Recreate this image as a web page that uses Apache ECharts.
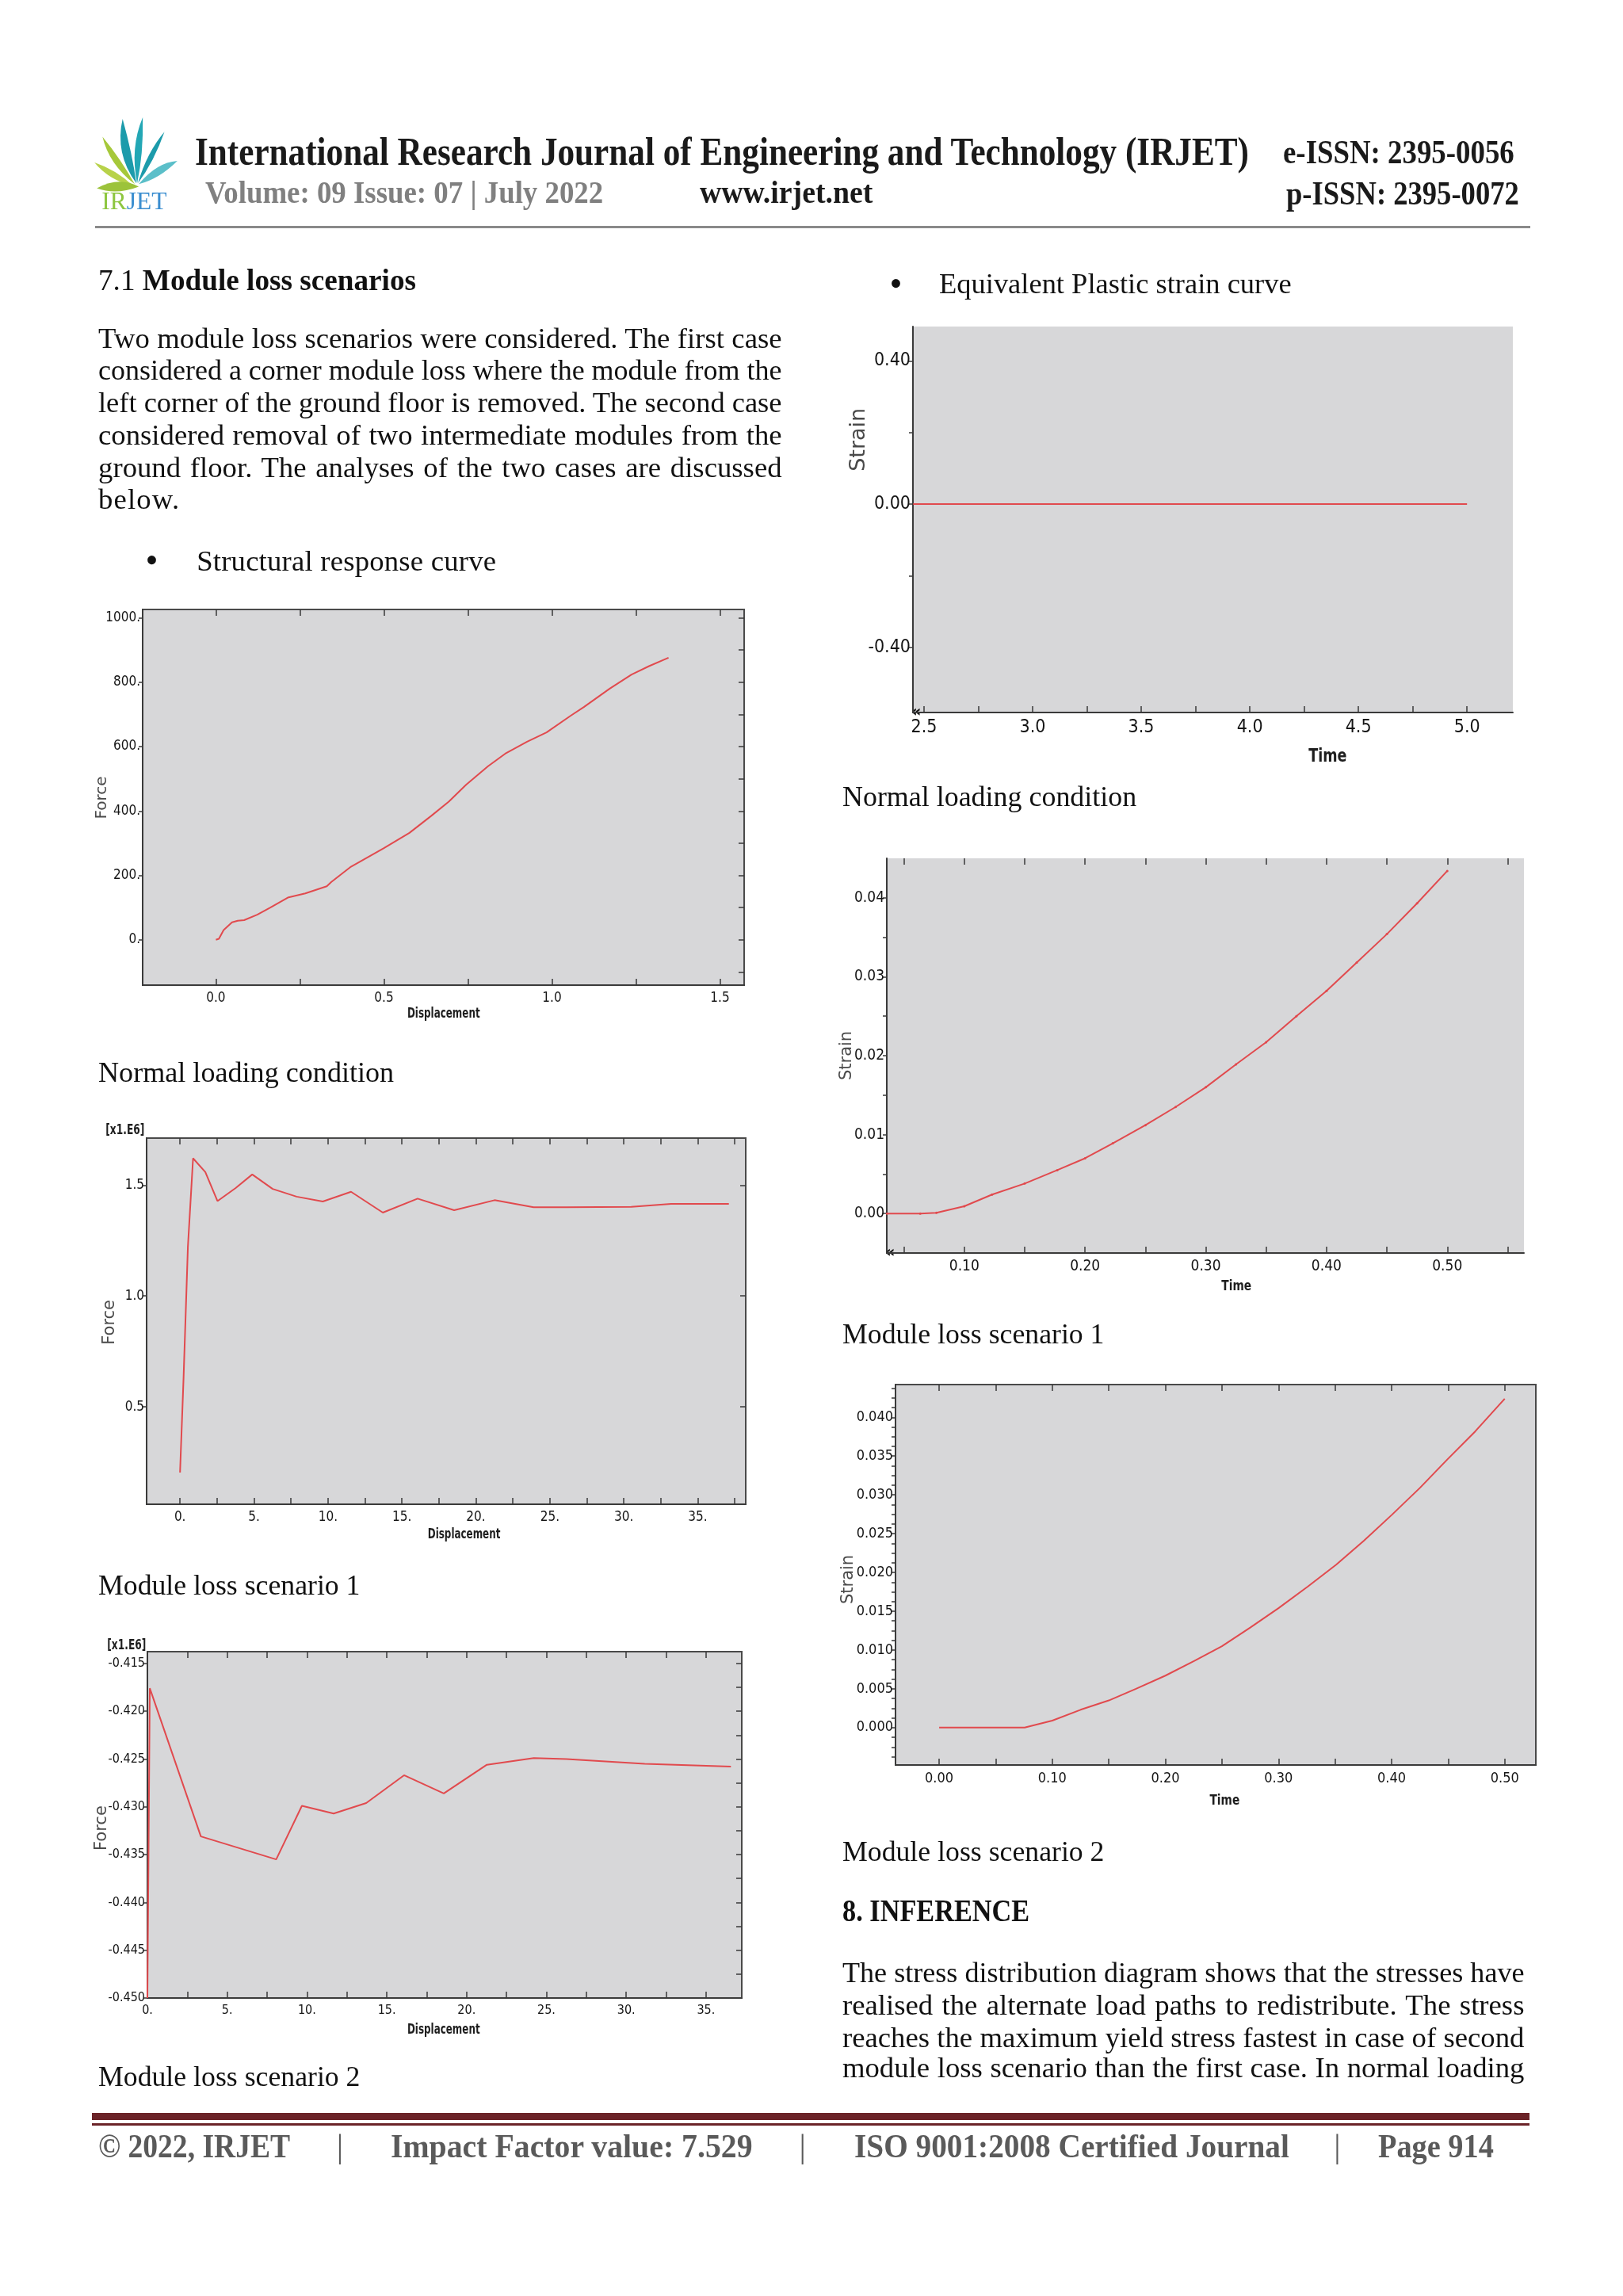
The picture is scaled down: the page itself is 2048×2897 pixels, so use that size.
<!DOCTYPE html>
<html><head><meta charset="utf-8">
<script src="https://cdn.jsdelivr.net/npm/echarts@6/dist/echarts.min.js"></script>
<style>
html,body{margin:0;padding:0;background:#fff;}
#page{position:relative;width:2048px;height:2897px;overflow:hidden;background:#fff;}
#chart{position:absolute;left:0;top:0;width:2048px;height:2897px;}
.t{position:absolute;white-space:nowrap;font-family:'Liberation Serif','DejaVu Serif',serif;color:#111;transform-origin:0 50%;}
.rule{position:absolute;}
</style></head><body>
<div id="page"><div id="chart"></div></div>
<script>
// ---------------- DATA ----------------
// Chart 1: Structural response curve (normal loading)
const c1Disp  = [0, 0.009, 0.023, 0.048, 0.065, 0.084, 0.123, 0.162, 0.214, 0.266, 0.330, 0.343, 0.402, 0.499, 0.576, 0.641, 0.693, 0.745, 0.810, 0.861, 0.926, 0.984, 1.056, 1.095, 1.172, 1.237, 1.289, 1.347];
const c1Force = [0, 3, 30, 54, 59, 61, 78, 100, 131, 144, 166, 179, 227, 284, 332, 385, 429, 482, 539, 578, 615, 644, 696, 723, 780, 824, 850, 876];
const c1XLabels = [0, 0.5, 1.0, 1.5];
const c1XTicks  = [0, 0.25, 0.5, 0.75, 1.0, 1.25, 1.5];
const c1YLabels = [0, 200, 400, 600, 800, 1000];
const c1YTicks  = [-100, 0, 100, 200, 300, 400, 500, 600, 700, 800, 900, 1000];

// Chart 2: Module loss scenario 1 (force x1.E6)
const c2Disp  = [0, 0.24, 0.53, 0.88, 1.71, 2.53, 3.76, 4.88, 6.26, 7.88, 9.65, 11.56, 13.71, 16.06, 18.53, 21.26, 23.9, 26.1, 30.5, 33.2, 37.1];
const c2Force = [0.204, 0.634, 1.22, 1.621, 1.559, 1.428, 1.487, 1.548, 1.483, 1.448, 1.426, 1.470, 1.376, 1.439, 1.387, 1.432, 1.400, 1.400, 1.402, 1.415, 1.415];
const c2XLabels = [0, 5, 10, 15, 20, 25, 30, 35];
const c2XTicks  = [0, 2.5, 5, 7.5, 10, 12.5, 15, 17.5, 20, 22.5, 25, 27.5, 30, 32.5, 35, 37.5];
const c2YLabels = [0.5, 1.0, 1.5];

// Chart 3: Module loss scenario 2 (force x1.E6)
const c3Disp  = [0, 0.15, 3.35, 8.07, 9.68, 11.67, 13.71, 16.08, 18.57, 21.27, 24.21, 26.25, 31.16, 36.56];
const c3Force = [-0.4500, -0.4176, -0.4331, -0.4355, -0.4299, -0.4307, -0.4296, -0.4267, -0.4286, -0.4256, -0.4249, -0.4250, -0.4255, -0.4258];
const c3XLabels = [0, 5, 10, 15, 20, 25, 30, 35];
const c3XTicks  = [0, 2.5, 5, 7.5, 10, 12.5, 15, 17.5, 20, 22.5, 25, 27.5, 30, 32.5, 35];
const c3YLabels = [-0.450, -0.445, -0.440, -0.435, -0.430, -0.425, -0.420, -0.415];
const c3YTicks  = [-0.4475, -0.445, -0.4425, -0.440, -0.4375, -0.435, -0.4325, -0.430, -0.4275, -0.425, -0.4225, -0.420, -0.4175, -0.415];

// Chart 4: Equivalent plastic strain, normal loading
const c4Time   = [2.45, 3.0, 3.5, 4.0, 4.5, 5.0];
const c4Strain = [0, 0, 0, 0, 0, 0];
const c4XLabels = [2.5, 3.0, 3.5, 4.0, 4.5, 5.0];
const c4XTicks  = [2.5, 2.75, 3.0, 3.25, 3.5, 3.75, 4.0, 4.25, 4.5, 4.75, 5.0];
const c4YLabels = [-0.40, 0.00, 0.40];
const c4YTicks  = [-0.40, -0.20, 0.00, 0.20, 0.40];

// Chart 5: Equivalent plastic strain, module loss scenario 1
const c5Time   = [0.036, 0.0635, 0.0769, 0.10, 0.123, 0.15, 0.177, 0.20, 0.223, 0.25, 0.275, 0.30, 0.325, 0.35, 0.375, 0.40, 0.425, 0.45, 0.475, 0.50];
const c5Strain = [0, 0, 0.0001, 0.00092, 0.0024, 0.0038, 0.0055, 0.0070, 0.0089, 0.0112, 0.0135, 0.0160, 0.0189, 0.0217, 0.0250, 0.0282, 0.0318, 0.0354, 0.0393, 0.0434];
const c5XLabels = [0.10, 0.20, 0.30, 0.40, 0.50];
const c5XTicks  = [0.05, 0.10, 0.15, 0.20, 0.25, 0.30, 0.35, 0.40, 0.45, 0.50, 0.55];
const c5YLabels = [0.00, 0.01, 0.02, 0.03, 0.04];
const c5YTicks  = [0.000, 0.005, 0.010, 0.015, 0.020, 0.025, 0.030, 0.035, 0.040];

// Chart 6: Equivalent plastic strain, module loss scenario 2
const c6Time   = [0, 0.0756, 0.10, 0.125, 0.15, 0.174, 0.20, 0.2256, 0.25, 0.275, 0.30, 0.326, 0.351, 0.3755, 0.40, 0.425, 0.4495, 0.474, 0.50];
const c6Strain = [0, 0, 0.0009, 0.0023, 0.0035, 0.0050, 0.0067, 0.0086, 0.0105, 0.0129, 0.0154, 0.0182, 0.0210, 0.0241, 0.0274, 0.0309, 0.0346, 0.0382, 0.0424];
const c6XLabels = [0.00, 0.10, 0.20, 0.30, 0.40, 0.50];
const c6XTicks  = [0.00, 0.05, 0.10, 0.15, 0.20, 0.25, 0.30, 0.35, 0.40, 0.45, 0.50];
const c6YLabels = [0.000, 0.005, 0.010, 0.015, 0.020, 0.025, 0.030, 0.035, 0.040];
const c6YTicks  = [-0.00375, -0.0025, -0.00125, 0, 0.00125, 0.0025, 0.00375, 0.005, 0.00625, 0.0075, 0.00875, 0.010, 0.01125, 0.0125, 0.01375, 0.015, 0.01625, 0.0175, 0.01875, 0.020, 0.02125, 0.0225, 0.02375, 0.025, 0.02625, 0.0275, 0.02875, 0.030, 0.03125, 0.0325, 0.03375, 0.035, 0.03625, 0.0375, 0.03875, 0.040, 0.04125, 0.0425, 0.04375];

// ---------------- CHARTS ----------------
const S = 0.9925; // page layout scale
const LBL_FONT = "'Liberation Sans Narrow','DejaVu Sans Condensed','Roboto Condensed','Liberation Sans',sans-serif";
const NAME_FONT = "'DejaVu Sans','Verdana',sans-serif";
const LINE = '#e14a4e';
const PLOT_BG = '#d7d7d9';

const cfgs = [
  { box:[181,775,765,478], xr:[-0.218,1.572], yr:[-141,1026], x:c1Disp, y:c1Force,
    xl:c1XLabels, xt:c1XTicks, yl:c1YLabels, ytL:c1YLabels, ytR:c1YTicks, topTicks:c1XTicks,
    xf:v=>v.toFixed(1), yf:v=>Math.round(v)+'.', fs:17, border:true,
    names:[{t:'Force',x:130,y:1014,rot:true,fs:20},{t:'Displacement',x:564,y:1289,fs:17,cond:true,sx:0.78}] },
  { box:[186,1447,762,465], xr:[-2.26,38.24], yr:[0.061,1.712], x:c2Disp, y:c2Force,
    xl:c2XLabels, xt:c2XTicks, yl:c2YLabels, ytL:c2YLabels, ytR:c2YLabels, topTicks:c2XTicks,
    xf:v=>Math.round(v)+'.', yf:v=>v.toFixed(1), fs:17, border:true,
    names:[{t:'Force',x:140,y:1681,rot:true,fs:21},{t:'Displacement',x:590,y:1951,fs:17,cond:true,sx:0.78},{t:'[x1.E6]',x:159,y:1437,fs:17,cond:true,sx:0.8}] },
  { box:[187,2100,756,440], xr:[0,37.24], yr:[-0.450,-0.41377], x:c3Disp, y:c3Force,
    xl:c3XLabels, xt:c3XTicks, yl:c3YLabels, ytL:c3YLabels, ytR:c3YTicks, topTicks:c3XTicks,
    xf:v=>Math.round(v)+'.', yf:v=>v.toFixed(3), fs:16, border:true,
    names:[{t:'Force',x:130,y:2324,rot:true,fs:21},{t:'Displacement',x:564,y:2581,fs:17,cond:true,sx:0.78},{t:'[x1.E6]',x:161,y:2092,fs:17,cond:true,sx:0.8}] },
  { box:[1161,415,763,491], xr:[2.449,5.211], yr:[-0.582,0.496], x:c4Time, y:c4Strain,
    xl:c4XLabels, xt:c4XTicks, yl:c4YLabels, ytL:c4YTicks, ytR:null, topTicks:null,
    xf:v=>v.toFixed(1), yf:v=>v.toFixed(2), fs:23, border:false, arrow:true,
    names:[{t:'Strain',x:1092,y:559,rot:true,fs:27},{t:'Time',x:1688,y:962,fs:23,cond:true,sx:0.85}] },
  { box:[1127,1091,810,502], xr:[0.0358,0.5635], yr:[-0.005,0.045], x:c5Time, y:c5Strain,
    xl:c5XLabels, xt:c5XTicks, yl:c5YLabels, ytL:c5YTicks, ytR:null, topTicks:c5XTicks,
    xf:v=>v.toFixed(2), yf:v=>v.toFixed(2), fs:19, border:false, arrow:true, sym:true,
    names:[{t:'Strain',x:1077,y:1342,rot:true,fs:21},{t:'Time',x:1572,y:1636,fs:18,cond:true,sx:0.85}] },
  { box:[1139,1760,814,484], xr:[-0.0386,0.5275], yr:[-0.00482,0.04422], x:c6Time, y:c6Strain,
    xl:c6XLabels, xt:c6XTicks, yl:c6YLabels, ytL:c6YTicks, ytR:null, topTicks:c6XTicks,
    xf:v=>v.toFixed(2), yf:v=>v.toFixed(3), fs:18, border:true,
    names:[{t:'Strain',x:1079,y:2008,rot:true,fs:21},{t:'Time',x:1557,y:2289,fs:18,cond:true,sx:0.85}] }
];

const option = { animation:false, backgroundColor:'transparent', grid:[], xAxis:[], yAxis:[], series:[], graphic:[] };

cfgs.forEach((c, i) => {
  const [l,t,w,h] = c.box.map(v => Math.round(v * S));
  option.grid.push({ left:l, top:t, width:w, height:h, show:true, backgroundColor:PLOT_BG,
    borderColor:'#4a4a4a', borderWidth:c.border?2:0, containLabel:false, outerBoundsMode:'none' });
  const xi = option.xAxis.length, yi = option.yAxis.length;
  const lbl = (vals, fmt, margin) => ({ customValues: vals, formatter: fmt, fontSize: c.fs, fontFamily: LBL_FONT, color:'#151515', margin: margin });
  option.xAxis.push({ gridIndex:i, type:'value', min:c.xr[0], max:c.xr[1], position:'bottom',
    axisLine:{ show:true, onZero:false, lineStyle:{ color:'#3a3a3a', width:2 } },
    axisTick:{ show:true, inside:true, length:8, customValues:c.xt, lineStyle:{ color:'#3a3a3a', width:1.5 } },
    axisLabel: lbl(c.xl, c.xf, 8), splitLine:{show:false} });
  option.xAxis.push({ gridIndex:i, type:'value', min:c.xr[0], max:c.xr[1], position:'top',
    axisLine:{ show:false, onZero:false }, axisLabel:{show:false}, splitLine:{show:false},
    axisTick:{ show: !!c.topTicks, inside:true, length:8, customValues:c.topTicks || [], lineStyle:{ color:'#3a3a3a', width:1.5 } } });
  option.yAxis.push({ gridIndex:i, type:'value', min:c.yr[0], max:c.yr[1], position:'left',
    axisLine:{ show:true, onZero:false, lineStyle:{ color:'#3a3a3a', width:2 } },
    axisTick:{ show:true, inside:false, length:5, customValues:c.ytL, lineStyle:{ color:'#3a3a3a', width:1.5 } },
    axisLabel: lbl(c.yl, c.yf, 3), splitLine:{show:false} });
  option.yAxis.push({ gridIndex:i, type:'value', min:c.yr[0], max:c.yr[1], position:'right',
    axisLine:{ show:false, onZero:false }, axisLabel:{show:false}, splitLine:{show:false},
    axisTick:{ show: !!c.ytR, inside:true, length:7, customValues:c.ytR || [], lineStyle:{ color:'#3a3a3a', width:1.5 } } });
  option.series.push({ type:'line', xAxisIndex:xi, yAxisIndex:yi, silent:true,
    data: c.x.map((v,k)=>[v, c.y[k]]),
    showSymbol: !!c.sym, symbol:'circle', symbolSize:3, itemStyle:{ color:LINE },
    lineStyle:{ color:LINE, width:2 } });
  c.names.forEach(n => {
    option.graphic.push({ type:'text', x:n.x * S, y:n.y * S, rotation: n.rot ? Math.PI/2 : 0,
      scaleX: n.sx || 1, silent:true,
      style:{ text:n.t, align:'center', verticalAlign:'middle', fill: n.rot ? '#4a4a4a' : '#1e1e1e',
        font: (n.cond ? 'bold ' : '') + n.fs + 'px ' + (n.cond ? LBL_FONT : NAME_FONT) } });
  });
  if (c.arrow) {
    option.graphic.push({ type:'text', x:l+4, y:t+h, silent:true,
      style:{ text:'\u00ab', align:'center', verticalAlign:'middle', fill:'#111', font:'bold 20px ' + NAME_FONT } });
  }
});

const chart = echarts.init(document.getElementById('chart'), null, { renderer:'canvas', width:2048, height:2897 });
chart.setOption(option);

// ---------------- PAGE TEXT ----------------
const page = document.getElementById('page');
function fit(d, w, mode) {
  const nat = d.getBoundingClientRect().width;
  const txt = d.textContent;
  if (nat > w) { d.style.transform = 'scaleX(' + (w / nat) + ')'; return; }
  if (mode === 'word') {
    const n = (txt.match(/ /g) || []).length;
    if (n) d.style.wordSpacing = ((w - nat) / n) + 'px';
  } else if (mode === 'letter') {
    d.style.letterSpacing = ((w - nat) / txt.length) + 'px';
  }
}
function addText(html, x, cy, size, o) {
  o = o || {};
  x *= S; cy *= S; size *= S;
  const d = document.createElement('div');
  d.className = 't';
  d.innerHTML = html;
  d.style.fontSize = size + 'px';
  d.style.lineHeight = (size * 1.2) + 'px';
  d.style.left = x + 'px';
  d.style.top = (cy - size * 0.6) + 'px';
  if (o.bold) d.style.fontWeight = 'bold';
  if (o.color) d.style.color = o.color;
  page.appendChild(d);
  if (o.w) fit(d, o.w * S, o.mode || 'letter');
  return d;
}
function addRule(x, y, w, h, color) {
  const d = document.createElement('div');
  d.className = 'rule';
  Object.assign(d.style, { left:(x*S)+'px', top:(y*S)+'px', width:(w*S)+'px', height:h+'px', background:color });
  page.appendChild(d);
}

// Logo
const logo = document.createElement('div');
logo.style.cssText = 'position:absolute;left:' + (117*S) + 'px;top:' + (149*S) + 'px;width:112px;height:124px;';
logo.innerHTML = '<svg width="112" height="124" viewBox="0 0 110 122">' +
  '<path d="M55,82 Q28,45 38,2 Q50,45 55,82Z" fill="#1c9bab"/>' +
  '<path d="M56,82 Q47,38 63,0 Q64,45 56,82Z" fill="#23a7b5"/>' +
  '<path d="M57,82 Q68,44 90,18 Q77,55 57,82Z" fill="#1c9bab"/>' +
  '<path d="M58,83 Q80,56 106,54 Q84,76 58,83Z" fill="#5bbfc9"/>' +
  '<path d="M53,83 Q21,58 13,24 Q36,52 53,83Z" fill="#a6c83a"/>' +
  '<path d="M51,85 Q21,78 3,56 Q30,65 51,85Z" fill="#b8d24a"/>' +
  '<path d="M6,88 Q34,73 58,86 Q30,97 6,88Z" fill="#9cc33b"/>' +
  '<text x="12" y="114" font-family="Liberation Serif, serif" font-size="31">' +
  '<tspan fill="#8dc63f">IR</tspan><tspan fill="#3b8ed0">JET</tspan></text></svg>';
page.appendChild(logo);

// Header
addText('International Research Journal of Engineering and Technology (IRJET)', 248, 193, 50, { bold:true, w:1340, color:'#1a1a1a' });
addText('e-ISSN: 2395-0056', 1631, 193, 42, { bold:true, w:294, color:'#1a1a1a' });
addText('Volume: 09 Issue: 07 | July 2022', 261, 246, 40, { bold:true, w:506, color:'#808080' });
addText('www.irjet.net', 890, 246, 40, { bold:true, w:220, color:'#1a1a1a' });
addText('p-ISSN: 2395-0072', 1635, 246, 42, { bold:true, w:296, color:'#1a1a1a' });
addRule(121, 287, 1825, 3, '#8a8a8a');

// Left column
addText('7.1 <b>Module loss scenarios</b>', 125, 356, 38, { w:404 });
const leftPara = [
  'Two module loss scenarios were considered. The first case',
  'considered a corner module loss where the module from the',
  'left corner of the ground floor is removed. The second case',
  'considered removal of two intermediate modules from the',
  'ground floor. The analyses of the two cases are discussed'
];
const leftParaY = [430, 471, 512, 553, 594];
leftPara.forEach((s, k) => addText(s, 125, leftParaY[k], 37, { w:869, mode:'word' }));
addText('below.', 125, 635, 37, { w:104 });
addText('\u2022', 185, 713, 46);
addText('Structural response curve', 250, 713, 37, { w:381 });
addText('Normal loading condition', 125, 1363, 37, { w:376 });
addText('Module loss scenario 1', 125, 2015, 37, { w:333 });
addText('Module loss scenario 2', 125, 2640, 37, { w:333 });

// Right column
addText('\u2022', 1131, 361, 46);
addText('Equivalent Plastic strain curve', 1194, 361, 37, { w:448 });
addText('Normal loading condition', 1071, 1013, 37, { w:374 });
addText('Module loss scenario 1', 1071, 1696, 37, { w:333 });
addText('Module loss scenario 2', 1071, 2354, 37, { w:333 });
addText('8. INFERENCE', 1071, 2430, 40, { bold:true, w:238 });
const rightPara = [
  'The stress distribution diagram shows that the stresses have',
  'realised the alternate load paths to redistribute. The stress',
  'reaches the maximum yield stress fastest in case of second',
  'module loss scenario than the first case. In normal loading'
];
const rightParaY = [2508, 2549, 2590, 2629];
rightPara.forEach((s, k) => addText(s, 1071, rightParaY[k], 37, { w:867, mode:'word' }));

// Footer
addRule(117, 2686, 1828, 9, '#6b2328');
addRule(117, 2699, 1828, 3, '#6b2328');
const FG = '#5a5a5a';
addText('\u00a9 2022, IRJET', 125, 2728, 42, { bold:true, w:244, color:FG });
addText('|', 428, 2728, 42, { color:FG });
addText('Impact Factor value: 7.529', 497, 2728, 42, { bold:true, w:460, color:FG });
addText('|', 1016, 2728, 42, { color:FG });
addText('ISO 9001:2008 Certified Journal', 1086, 2728, 42, { bold:true, w:553, color:FG });
addText('|', 1696, 2728, 42, { color:FG });
addText('Page 914', 1752, 2728, 42, { bold:true, w:147, color:FG });
</script>
</body></html>
